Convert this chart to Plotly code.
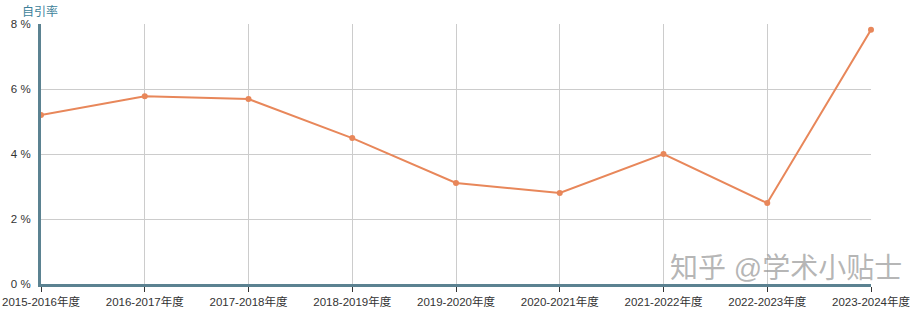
import plotly.graph_objects as go

categories = ["2015-2016年度", "2016-2017年度", "2017-2018年度", "2018-2019年度",
              "2019-2020年度", "2020-2021年度", "2021-2022年度", "2022-2023年度",
              "2023-2024年度"]
self_citation_rate = [5.2, 5.78, 5.69, 4.49, 3.11, 2.80, 4.0, 2.49, 7.82]
y_ticks = [0, 2, 4, 6, 8]
y_tick_labels = ["0 %", "2 %", "4 %", "6 %", "8 %"]
y_title = "自引率"
watermark = "知乎 @学术小贴士"

font_family = "Arial, 'Liberation Sans', 'Noto Sans CJK SC', sans-serif"

W, H = 923, 317
l, r, t, b = 41, 52, 24, 33
pw, ph = W - l - r, H - t - b


def px(x):
    return (x - l) / pw


def py(y):
    return (H - b - y) / ph


fig = go.Figure()
fig.add_trace(go.Scatter(
    x=categories, y=self_citation_rate, mode="lines+markers",
    line=dict(color="#E8875A", width=2),
    marker=dict(color="#E8875A", size=6),
    showlegend=False, cliponaxis=False,
))

fig.update_layout(
    width=W, height=H,
    margin=dict(l=l, r=r, t=t, b=b, autoexpand=False),
    paper_bgcolor="white", plot_bgcolor="white",
    font=dict(family=font_family, size=11, color="#333333"),
    xaxis=dict(
        type="category", range=[0, len(categories) - 1],
        showgrid=True, gridcolor="#CCCCCC", gridwidth=1,
        showline=True, linecolor="#5B8291", linewidth=3,
        ticks="outside", ticklen=5, tickcolor="#333333",
        tickfont=dict(size=11.5, color="#333333"),
        automargin=False,
    ),
    yaxis=dict(
        range=[0, 8], tickvals=y_ticks, ticktext=y_tick_labels,
        showgrid=True, gridcolor="#CCCCCC", gridwidth=1,
        showline=True, linecolor="#5B8291", linewidth=3,
        zeroline=False, ticks="", ticklabelstandoff=5,
        tickfont=dict(size=11.5, color="#333333"),
        automargin=False,
    ),
    annotations=[
        dict(text=y_title, x=px(40), y=py(12), xref="paper", yref="paper",
             xanchor="center", yanchor="middle",
             showarrow=False, font=dict(size=12, color="#3D7F9A")),
        dict(text=watermark, x=px(786), y=py(268), xref="paper", yref="paper",
             xanchor="center", yanchor="middle",
             showarrow=False, font=dict(size=28, color="rgba(150,150,150,0.7)")),
    ],
)
fig.write_html("out.html")
